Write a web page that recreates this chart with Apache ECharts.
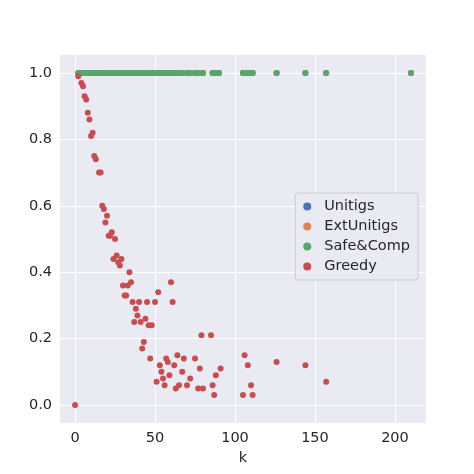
<!DOCTYPE html><html><head><meta charset="utf-8"><script src="https://cdn.jsdelivr.net/npm/echarts@6/dist/echarts.min.js"></script></head><body style="margin:0"><div id="c" style="width:474px;height:474px"></div><script>
const greedyK=[0,2,4,5,6,7,8,9,10,11,12,13,15,16,17,18,20,19,21,22,23,25,24,26,27,28,29,30,31,32,33,34,35,36,37,38,39,40,41,42,43,44,45,46,47,48,50,51,52,53,54,55,56,57,58,59,60,61,62,63,64,65,67,68,70,72,75,77,78,79,80,85,86,87,88,91,105,106,108,110,111,126,144,157];
const greedyV=[0,0.99,0.97,0.96,0.93,0.92,0.88,0.86,0.81,0.82,0.75,0.74,0.70,0.70,0.60,0.59,0.57,0.55,0.51,0.51,0.52,0.50,0.44,0.45,0.43,0.42,0.44,0.36,0.33,0.33,0.36,0.40,0.37,0.31,0.25,0.29,0.27,0.31,0.25,0.17,0.19,0.26,0.31,0.24,0.14,0.24,0.31,0.07,0.34,0.12,0.10,0.08,0.06,0.14,0.13,0.09,0.37,0.31,0.12,0.05,0.15,0.06,0.10,0.14,0.06,0.08,0.14,0.05,0.11,0.21,0.05,0.21,0.06,0.03,0.09,0.11,0.03,0.15,0.12,0.06,0.03,0.13,0.12,0.07];
const safeK=[2,3,4,5,6,7,8,9,10,11,12,13,14,15,16,17,18,19,20,21,22,23,24,25,26,27,28,29,30,31,32,33,34,35,36,37,38,39,40,41,42,43,44,45,46,47,48,49,50,51,52,53,54,55,56,57,58,59,60,61,62,63,64,65,67,70,72,75,77,79,80,86,88,90,105,106,108,110,111,126,144,157,210];
const safeV=safeK.map(()=>1);
const xTicks=[0,50,100,150,200], yTicks=[0,0.2,0.4,0.6,0.8,1.0];
const mk=(k,v)=>k.map((x,i)=>[x,v[i]]);
const s=(name,color,data)=>({name,type:'scatter',symbolSize:6,itemStyle:{color,opacity:1},data});
const ax={axisLine:{show:false},axisTick:{show:false},splitLine:{lineStyle:{color:'#fff',width:1}},axisLabel:{color:'#262626',fontSize:14.5,fontFamily:'DejaVu Sans'}};
echarts.init(document.getElementById('c')).setOption({
backgroundColor:'#fff',
grid:{left:60,right:48,top:55,bottom:51,show:true,backgroundColor:'#EAEAF2',borderWidth:0},
xAxis:{type:'value',min:-9.4,max:219.4,name:'k',nameLocation:'middle',nameGap:24,nameTextStyle:{fontSize:14.5,color:'#262626',fontFamily:'DejaVu Sans'},...ax,
 axisTick:{show:false,customValues:xTicks},axisLabel:{...ax.axisLabel,customValues:xTicks}},
yAxis:{type:'value',min:-0.054,max:1.054,...ax,axisTick:{show:false,customValues:yTicks},axisLabel:{...ax.axisLabel,customValues:yTicks,formatter:v=>v.toFixed(1)}},
legend:{orient:'vertical',right:56,top:193,backgroundColor:'rgba(234,234,242,0.85)',borderColor:'#ccc',borderWidth:1,borderRadius:3,padding:[6,8],itemGap:5,itemWidth:8,itemHeight:8,icon:'circle',textStyle:{fontSize:14.5,color:'#262626',fontFamily:'DejaVu Sans',padding:[0,0,0,8]},
 data:['Unitigs','ExtUnitigs','Safe&Comp','Greedy']},
series:[s('Unitigs','#4C72B0',mk(safeK,safeV)),s('ExtUnitigs','#DD8452',mk(safeK,safeV)),s('Safe&Comp','#55A868',mk(safeK,safeV)),s('Greedy','#C44E52',mk(greedyK,greedyV))]
});
</script></body></html>
